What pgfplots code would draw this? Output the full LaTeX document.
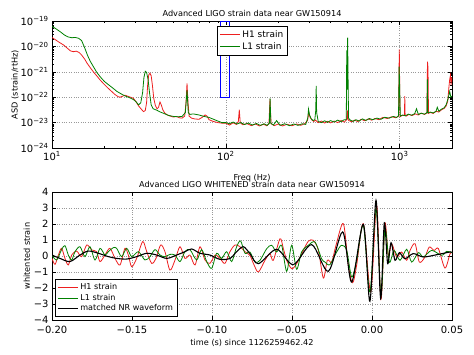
\documentclass[border=0pt]{standalone}
\usepackage{fontspec}
\setmainfont{DejaVu Sans}
\usepackage{pgfplots}
\pgfplotsset{compat=1.18}
\definecolor{mplred}{rgb}{0.93,0.12,0.12}
\definecolor{mplgreen}{rgb}{0,0.5,0}
\newcommand{\lblfont}{\fontsize{8.2}{10}\selectfont}
\newcommand{\tckfont}{\fontsize{10}{12}\selectfont}
\pgfplotsset{
  mplstyle/.style={
    scale only axis,
    width=400bp,
    axis line style={black, line width=0.6pt},
    tick style={black, line width=0.5pt},
    major tick length=4bp, minor tick length=2bp,
    grid=major,
    major grid style={dotted, gray!80, line width=0.5pt},
    ticklabel style={font=\tckfont},
    label style={font=\lblfont},
    title style={font=\lblfont, yshift=-5bp},
    legend cell align=left,
    legend image code/.code={\path (-3bp,0bp) -- (17bp,0bp); \draw[##1] (0bp,0bp) -- (11bp,0bp);},
  }
}
\begin{document}
\begin{tikzpicture}
\path[use as bounding box] (0,0) rectangle (474bp,355bp);
\begin{axis}[
  mplstyle,
  at={(52bp,207bp)}, anchor=south west,
  height=127bp,
  xmode=log, ymode=log,
  xmin=10, xmax=2000, ymin=1e-24, ymax=1e-19,
  xtick={10,100,1000},
  xticklabels={10\textsuperscript{1},10\textsuperscript{2},10\textsuperscript{3}},
  minor xtick={20,30,40,50,60,70,80,90,200,300,400,500,600,700,800,900},
  ytick={1e-24,1e-23,1e-22,1e-21,1e-20,1e-19},
  yticklabels={10\textsuperscript{−24},10\textsuperscript{−23},10\textsuperscript{−22},10\textsuperscript{−21},10\textsuperscript{−20},10\textsuperscript{−19}},
  minor ytick={},
  title={Advanced LIGO strain data near GW150914},
  xlabel={Freq (Hz)},
  ylabel={ASD (strain/rtHz)},
  xlabel style={yshift=-7bp},
  ylabel style={yshift=-5bp},
  legend style={at={(0.501,0.961)}, anchor=north, draw=black, line width=0.6pt, font=\fontsize{9}{11}\selectfont, inner sep=2bp, row sep=0bp},
]
\addplot[mplred, line width=0.8pt] coordinates {
(10,2.24e-20) (10.5,1.8e-20) (11,1.45e-20) (11.7,1.12e-20) (12.3,8.3e-21) (12.8,6.6e-21)
(13.3,6.2e-21) (13.8,6.5e-21) (14.3,5.8e-21) (14.8,4.6e-21) (15.4,3.2e-21) (15.9,2.2e-21)
(16.6,1.45e-21) (17.4,9.5e-22) (18.2,6.6e-22) (18.9,4.8e-22) (19.8,3.4e-22) (20.7,2.5e-22)
(21.8,1.8e-22) (23.1,1.25e-22) (24.0,1.05e-22) (24.7,1.0e-22) (25.5,1.1e-22) (26.3,1.2e-22)
(27.2,1.1e-22) (28.3,1.0e-22) (29.4,9e-23) (30.5,6.5e-23) (31.5,4.5e-23) (32.5,3.5e-23)
(33.6,2.7e-23) (34.4,3.0e-23) (35.0,6e-23) (35.5,3.0e-22) (36.0,7.5e-22) (36.6,8.8e-22)
(37.2,7.0e-22) (37.8,3.0e-22) (38.5,9e-23) (39.3,4.8e-23) (40.2,3.5e-23) (41.0,4.0e-23)
(41.8,6.5e-23) (42.5,5.0e-23) (43.4,3.2e-23) (44.5,2.4e-23) (46,2.0e-23) (48,1.8e-23)
(50,1.65e-23) (52,1.75e-23) (54,1.55e-23) (56,1.5e-23) (58,1.8e-23) (59,6e-23)
(59.8,3.5e-22) (60.6,6e-23) (61.5,1.8e-23) (63.5,1.5e-23) (66,1.4e-23) (70,1.35e-23)
(73,1.6e-23) (76,2.0e-23) (78,1.8e-23) (80,1.3e-23) (85,1.1e-23) (90,1.0e-23) (95,9.5e-24)
(100,9.5e-24) (105,8.0e-24) (110,9.8e-24) (115,8.5e-24) (118,1.1e-23) (119.5,3.2e-23)
(121,1.0e-23) (125,8.2e-24) (132,9.2e-24) (140,7.6e-24) (148,8.8e-24) (156,7.4e-24)
(165,8.6e-24) (172,7.5e-24) (177,9e-24) (179.5,8.5e-23) (182,9e-24) (190,7.6e-24)
(200,8.8e-24) (212,7.4e-24) (225,8.6e-24) (240,7.5e-24) (255,8.8e-24) (270,7.8e-24)
(285,9.2e-24) (295,1.2e-23) (300,2.5e-23) (305,1.6e-23) (312,1.3e-23) (320,1.1e-23)
(328,1.25e-23) (340,1.0e-23) (355,1.15e-23) (370,9.6e-24) (385,1.12e-23) (400,9.8e-24)
(420,1.15e-23) (440,1.0e-23) (460,1.2e-23) (480,1.05e-23) (495,1.3e-23) (500,3e-23)
(503,1.4e-23) (510,1.2e-23) (530,1.08e-23) (550,1.25e-23) (575,1.1e-23) (600,1.35e-23)
(630,1.18e-23) (660,1.4e-23) (690,1.25e-23) (720,1.45e-23) (760,1.3e-23) (800,1.6e-23)
(850,1.45e-23) (900,1.7e-23) (950,1.55e-23) (985,1.8e-23) (995,7.6e-21) (1005,1.7e-23)
(1030,1.9e-23) (1065,1.9e-23) (1070,1.1e-22) (1075,1.9e-23) (1090,1.8e-23) (1130,2.1e-23)
(1180,1.9e-23) (1230,2.2e-23) (1280,2.0e-23) (1330,2.35e-23) (1390,2.1e-23) (1435,2.4e-23)
(1445,2.5e-21) (1455,1.5e-21) (1465,2.3e-23) (1500,2.5e-23) (1560,2.3e-23) (1620,2.8e-23)
(1680,2.6e-23) (1740,3.2e-23) (1800,3.6e-23) (1850,4.5e-23) (1890,7e-23) (1920,2.5e-22)
(1940,5e-22) (1960,7.4e-22) (1975,3e-22) (1990,6e-22) (2000,4e-22)
};
\addlegendentry{H1 strain}
\addplot[mplgreen, line width=0.8pt] coordinates {
(10,6.2e-20) (10.6,4.8e-20) (11.2,3.7e-20) (11.8,2.8e-20) (12.4,2.35e-20) (13.0,2.2e-20)
(13.6,2.25e-20) (14.2,2.1e-20) (14.8,1.7e-20) (15.4,9e-21) (16.0,4.5e-21) (16.6,2.6e-21)
(17.3,1.6e-21) (18.1,9.5e-22) (19.0,6.2e-22) (20.0,4.2e-22) (21.0,3.2e-22) (22.2,2.4e-22)
(23.6,1.7e-22) (25.0,1.35e-22) (26.5,1.1e-22) (28.0,9.5e-23) (29.5,8.0e-23) (30.5,6.5e-23)
(31.5,5.0e-23) (32.4,6.0e-23) (33.2,1.5e-22) (33.8,6e-22) (34.4,1.05e-21) (35.0,9.5e-22)
(35.7,5e-22) (36.4,1.5e-22) (37.2,5e-23) (38.2,3.5e-23) (40,3.1e-23) (42,2.6e-23)
(44,2.3e-23) (47,1.9e-23) (50,1.75e-23) (53,1.7e-23) (56,1.75e-23) (58.5,2.5e-23)
(59.8,1.9e-22) (60.8,2.5e-23) (62,2.1e-23) (65,2.2e-23) (70,2.0e-23) (75,1.75e-23)
(80,1.6e-23) (85,1.35e-23) (90,1.15e-23) (95,1.0e-23)
(100,1.0e-23) (105,9.0e-24) (110,1.05e-23) (116,8.8e-24) (122,1.0e-23) (128,8.4e-24)
(135,9.6e-24) (142,8.0e-24) (150,9.2e-24) (158,7.8e-24) (166,9.0e-24) (173,7.8e-24)
(178,9.5e-24) (179.7,9e-23) (181.5,9.5e-24) (188,8e-24) (196,1.2e-23) (205,7.8e-24)
(218,9e-24) (232,7.6e-24) (246,8.8e-24) (260,7.8e-24) (275,9e-24) (288,8.5e-24)
(296,1.5e-23) (299,3.4e-23) (303,2.0e-23) (310,1.4e-23) (318,1.2e-23) (325,1.3e-23)
(329,3e-23) (331,2.8e-22) (333,2.5e-23) (340,1.1e-23) (355,1.0e-23) (370,1.18e-23)
(385,1.02e-23) (400,1.2e-23) (420,1.05e-23) (440,1.25e-23) (460,1.1e-23) (480,1.3e-23)
(493,1.3e-23) (496,7e-21) (499,2e-22) (502,2.2e-20) (505,5e-22) (508,1.5e-23)
(520,1.25e-23) (540,1.12e-23) (560,1.3e-23) (585,1.15e-23) (610,1.4e-23) (640,1.22e-23)
(670,1.45e-23) (700,1.3e-23) (740,1.5e-23) (780,1.35e-23) (820,1.62e-23) (870,1.5e-23)
(920,1.75e-23) (960,1.6e-23) (985,1.85e-23) (993,1.6e-21) (1000,2.5e-22) (1008,1.8e-23)
(1040,2.0e-23) (1080,1.85e-23) (1120,2.15e-23) (1170,1.95e-23) (1220,2.25e-23) (1250,3.5e-23)
(1280,2.1e-23) (1330,2.35e-23) (1390,2.15e-23) (1435,2.5e-23) (1443,5e-22) (1452,2.4e-23)
(1500,2.6e-23) (1560,2.4e-23) (1620,2.8e-23) (1645,4e-23) (1680,2.8e-23) (1740,3.4e-23)
(1800,3.8e-23) (1850,5e-23) (1900,9e-23) (1940,1.7e-22) (1970,1.0e-22) (2000,1.1e-22)
};
\addlegendentry{L1 strain}
\addplot[blue, line width=0.6pt, forget plot] coordinates {
(93,1e-22) (104,1e-22) (104,1e-19) (93,1e-19) (93,1e-22)
};
\end{axis}

\begin{axis}[
  mplstyle,
  at={(52bp,35bp)}, anchor=south west,
  height=128bp,
  xmin=-0.2, xmax=0.05, ymin=-4, ymax=4,
  xtick={-0.2,-0.15,-0.1,-0.05,0,0.05},
  xticklabels={−0.20,−0.15,−0.10,−0.05,0.00,0.05},
  ytick={-4,-3,-2,-1,0,1,2,3,4},
  yticklabels={−4,−3,−2,−1,0,1,2,3,4},
  xticklabel style={yshift=-3bp},
  title={Advanced LIGO WHITENED strain data near GW150914},
  xlabel={time (s) since 1126259462.42},
  xlabel style={yshift=2bp},
  ylabel={whitented strain},
  ylabel style={yshift=-3bp},
  legend style={at={(0.0075,0.026)}, anchor=south west, draw=black, line width=0.6pt, font=\fontsize{8.1}{10}\selectfont, inner sep=2bp, row sep=-1bp},
]
\addplot[mplred, line width=0.8pt, smooth] coordinates {
(-0.2000,-0.15) (-0.1981,-0.52) (-0.1960,0.06) (-0.1940,0.48) (-0.1919,-0.15) (-0.1898,-0.56)
(-0.1877,0.06) (-0.1846,0.31) (-0.1815,-0.04) (-0.1783,0.69) (-0.1752,0.38) (-0.1721,0.27)
(-0.1700,-0.35) (-0.1669,0.06) (-0.1638,0.48) (-0.1606,-0.15) (-0.1575,-0.56) (-0.1544,0.48)
(-0.1523,0.06) (-0.1502,-0.67) (-0.1471,-0.15) (-0.1433,0.90) (-0.1408,0.27) (-0.1377,-0.46)
(-0.1350,-0.15) (-0.1321,0.69) (-0.1294,0.27) (-0.1263,-0.88) (-0.1231,-0.25) (-0.1200,0.58)
(-0.1169,-0.15) (-0.1138,0.06) (-0.1106,-0.56) (-0.1075,0.58) (-0.1044,-0.25) (-0.1013,-0.46)
(-0.0981,0.06) (-0.0950,-0.15) (-0.0919,-0.46) (-0.0888,0.27) (-0.0856,0.69) (-0.0825,0.58)
(-0.0794,0.27) (-0.0763,0.04) (-0.0738,-0.54) (-0.0710,-1.0) (-0.0669,-0.27) (-0.0638,0.15)
(-0.0617,-0.27) (-0.0575,1.08) (-0.0554,0.46) (-0.0533,-0.27) (-0.0502,-0.79) (-0.0471,-0.48)
(-0.0429,0.35) (-0.0398,0.92) (-0.0367,0.98) (-0.0335,0.35) (-0.0304,-1.38) (-0.0279,-0.27)
(-0.0252,-0.38) (-0.0225,0.67) (-0.0179,2.02) (-0.0148,-0.58) (-0.0121,-1.67) (-0.0096,-0.58)
(-0.0054,2.02) (-0.0008,-2.25) (0.0029,3.17) (0.0056,-2.71) (0.0081,2.02) (0.0102,0.04)
(0.0123,0.77) (0.0154,-0.06) (0.0185,0.25) (0.0217,-0.27) (0.0238,0.35) (0.0269,0.77)
(0.0296,-0.38) (0.0331,-0.06) (0.0358,0.56) (0.0388,0.35) (0.0415,0.46) (0.0456,-0.75)
(0.0488,0.15) (0.0500,0.20)
};
\addlegendentry{H1 strain}
\addplot[mplgreen, line width=0.8pt, smooth] coordinates {
(-0.2000,0.06) (-0.1971,-0.25) (-0.1940,0.40) (-0.1919,0.65) (-0.1898,0.06) (-0.1877,-0.25)
(-0.1856,0.27) (-0.1825,0.58) (-0.1794,-0.04) (-0.1763,0.58) (-0.1731,-0.25) (-0.1700,0.48)
(-0.1669,0.06) (-0.1648,0.27) (-0.1617,0.52) (-0.1596,0.48) (-0.1565,-0.04) (-0.1533,0.48)
(-0.1502,-0.04) (-0.1460,0.27) (-0.1419,-0.25) (-0.1388,-0.04) (-0.1356,0.40) (-0.1325,0.06)
(-0.1294,-0.04) (-0.1263,0.10) (-0.1231,0.06) (-0.1200,-0.35) (-0.1169,0.27) (-0.1138,0.40)
(-0.1096,-0.25) (-0.1065,0.40) (-0.1033,-0.35) (-0.1002,-0.77) (-0.0971,0.17) (-0.0940,-0.15)
(-0.0908,0.27) (-0.0877,-0.35) (-0.0846,0.58) (-0.0821,0.94) (-0.0794,0.17) (-0.0763,0.25)
(-0.0731,-0.38) (-0.0700,-0.27) (-0.0658,0.46) (-0.0627,0.67) (-0.0596,0.25) (-0.0565,0.67)
(-0.0533,-0.96) (-0.0502,0.67) (-0.0471,-0.83) (-0.0440,0.25) (-0.0398,0.67) (-0.0356,0.87)
(-0.0315,-0.17) (-0.0294,-0.38) (-0.0263,-0.54) (-0.0221,0.25) (-0.0190,0.67) (-0.0158,0.35)
(-0.0127,-1.31) (-0.0096,-0.27) (-0.0054,1.92) (-0.0013,-2.25) (0.0025,2.96) (0.0056,-2.46)
(0.0081,1.71) (0.0108,-0.38) (0.0138,0.35) (0.0175,-0.27) (0.0217,0.42) (0.0248,-0.38)
(0.0290,0.21) (0.0321,-0.06) (0.0373,0.35) (0.0435,0.04) (0.0467,0.29) (0.0500,0.21)
};
\addlegendentry{L1 strain}
\addplot[black, line width=1.1pt, smooth] coordinates {
(-0.2000,0.06) (-0.1950,-0.15) (-0.1888,-0.35) (-0.1825,0.06) (-0.1773,0.31) (-0.1710,0.17)
(-0.1648,-0.04) (-0.1596,-0.15) (-0.1533,-0.19) (-0.1471,-0.04) (-0.1408,0.17) (-0.1346,0.06)
(-0.1283,-0.15) (-0.1221,0.06) (-0.1169,0.27) (-0.1127,0.44) (-0.1075,0.17) (-0.1013,0.06)
(-0.0950,-0.21) (-0.0887,-0.15) (-0.0846,0.27) (-0.0804,0.58) (-0.0763,0.15) (-0.0710,-0.48)
(-0.0596,0.42) (-0.0492,-0.54) (-0.0377,0.71) (-0.0273,-0.96) (-0.0183,1.5) (-0.0127,-1.63)
(-0.0054,1.98) (-0.0013,-2.83) (0.0025,3.48) (0.0054,-2.67) (0.0077,2.08) (0.0098,-0.48)
(0.0119,0.83) (0.0144,-0.27) (0.0171,0.21) (0.0206,-0.17) (0.0258,0.15) (0.0321,-0.06)
(0.0404,0.08) (0.0488,0.25) (0.0500,0.22)
};
\addlegendentry{matched NR waveform}
\end{axis}
\end{tikzpicture}
\end{document}
